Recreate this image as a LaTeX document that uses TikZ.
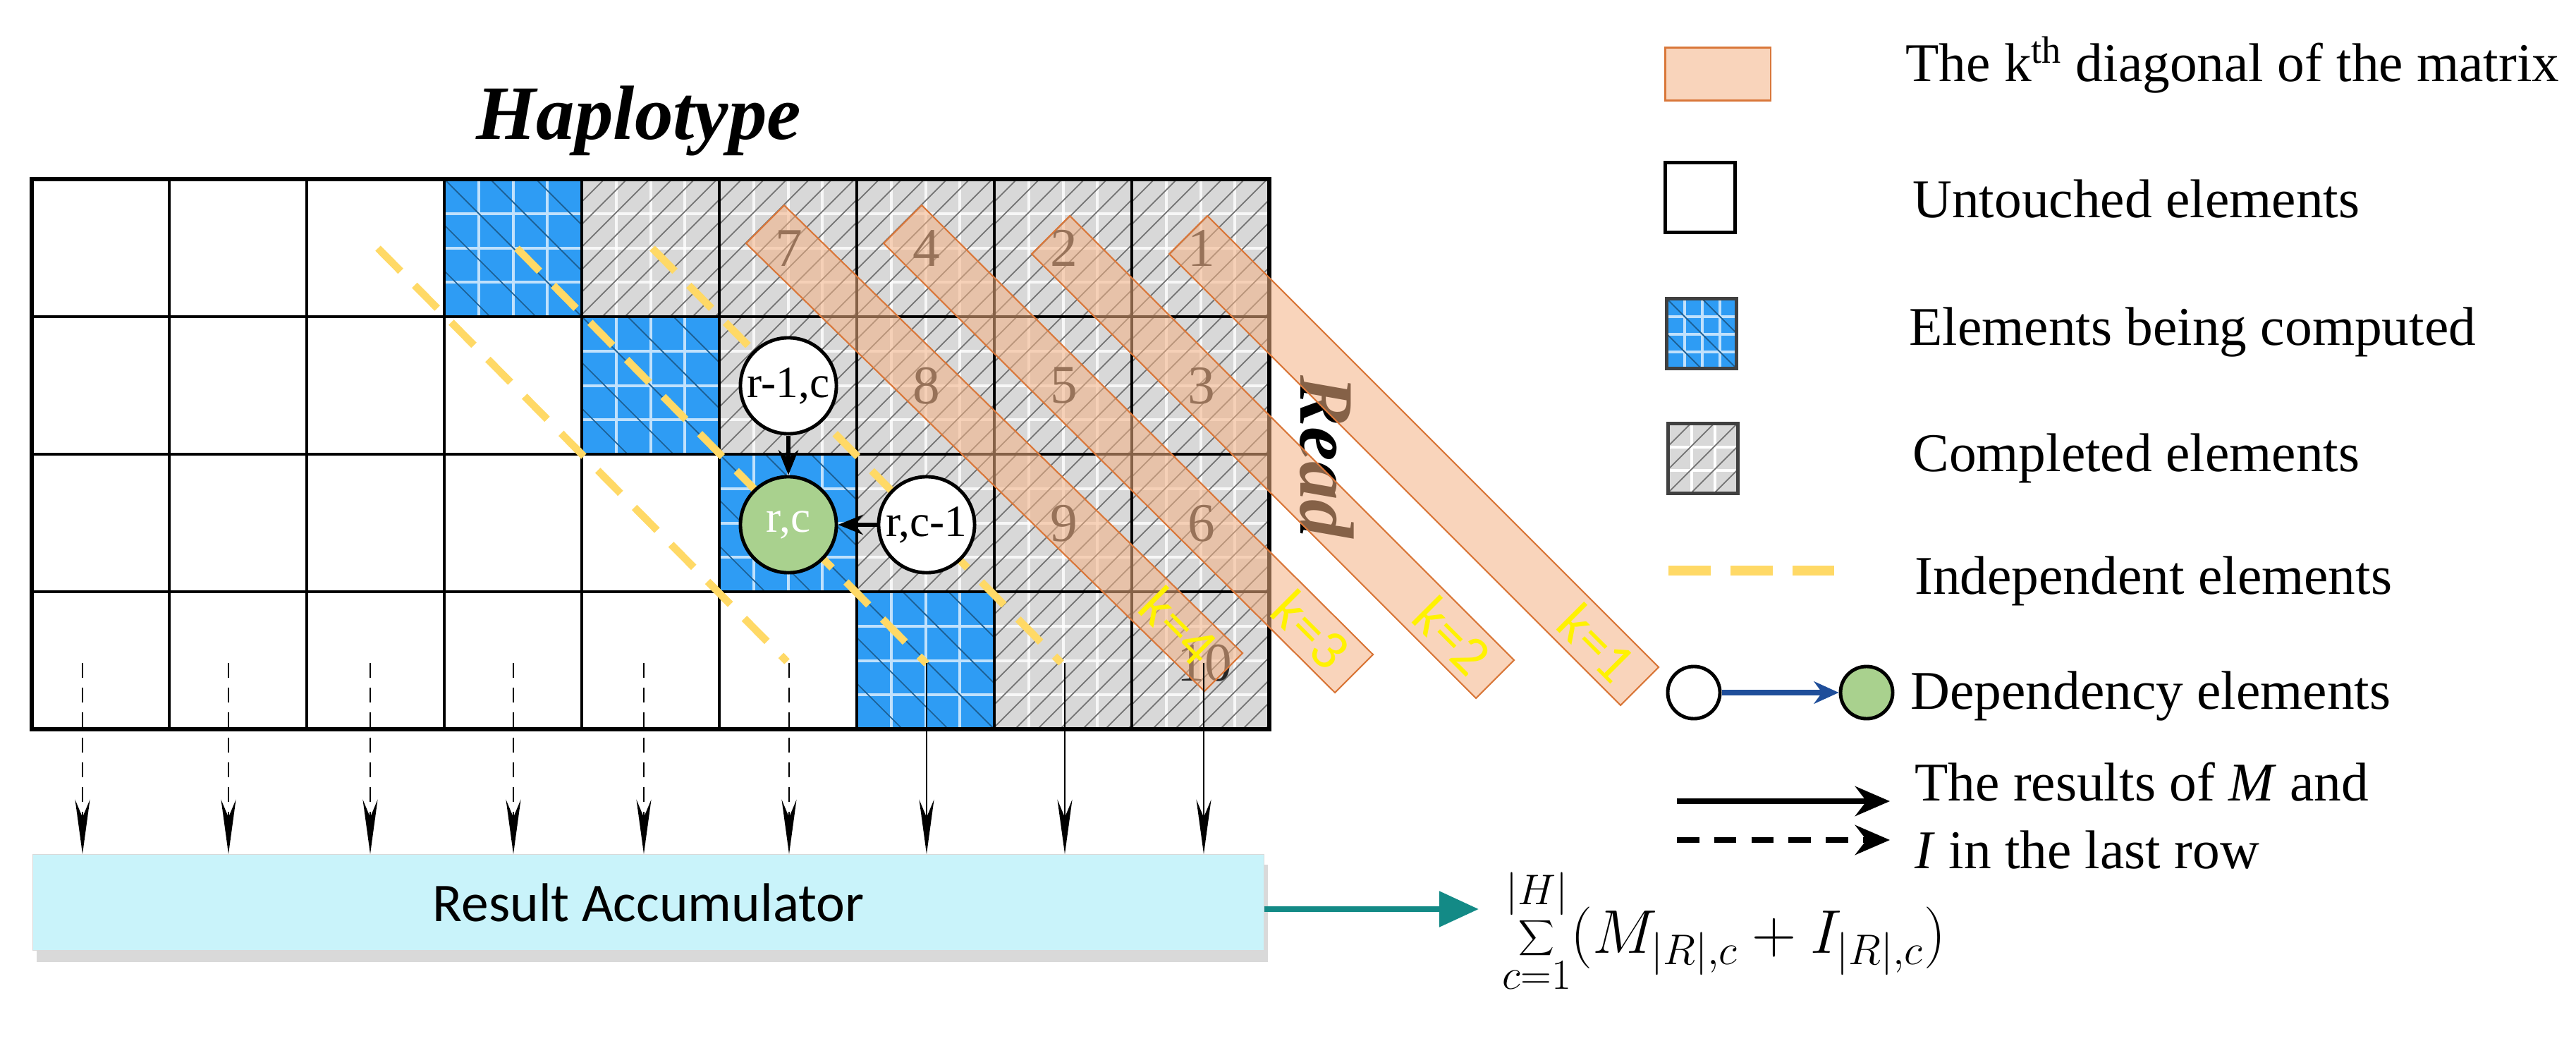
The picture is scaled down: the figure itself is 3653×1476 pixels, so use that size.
\documentclass[tikz,border=0pt]{standalone}
\usepackage{fontspec}
\setmainfont{Liberation Serif}
\newfontfamily\sansf{Carlito}
\usetikzlibrary{arrows.meta}
\definecolor{cblue}{HTML}{2E9CF4}
\definecolor{cgray}{HTML}{D8D8D8}
\definecolor{cgreen}{HTML}{A9D18E}
\definecolor{cyel}{HTML}{FFD966}
\definecolor{corange}{HTML}{F4B183}
\definecolor{cobord}{HTML}{D9773A}
\definecolor{cacc}{HTML}{C9F3FA}
\definecolor{cteal}{HTML}{138A86}
\definecolor{cdep}{HTML}{1F4E9A}
\newcommand\hcGray[2]{\begin{scope}\clip (#1,#2) rectangle ++(195,195);
 \fill[cgray] (#1,#2) rectangle ++(195,195);
 \foreach \q in {49,98,146}{\draw[white,line width=1.2pt,opacity=.8] ({#1+\q},#2) -- ++(0,195); \draw[white,line width=1.2pt,opacity=.8] (#1,{#2+\q}) -- ++(195,0);}
 \foreach \d in {-195,-163,...,200}{\draw[gray!90!black,line width=.5pt] ({#1+\d},{#2+195}) -- ++(195,-195);}
 \end{scope}}
\newcommand\hcBlue[2]{\begin{scope}\clip (#1,#2) rectangle ++(195,195);
 \fill[cblue] (#1,#2) rectangle ++(195,195);
 \foreach \q in {49,98,146}{\draw[white!70!cblue,line width=1pt] ({#1+\q},#2) -- ++(0,195); \draw[white!70!cblue,line width=1pt] (#1,{#2+\q}) -- ++(195,0);}
 \foreach \d in {-195,-130,...,200}{\draw[cblue!60!black,line width=.5pt] ({#1+\d},#2) -- ++(195,195);}
 \end{scope}}
\tikzset{
 band/.style={fill=corange,fill opacity=.55,draw=cobord,draw opacity=1,line width=.6pt},
 klab/.style={font=\sansf\fontsize{23}{23}\selectfont,text=yellow,rotate=-45},
 num/.style={font=\fontsize{22}{22}\selectfont,text=black!85},
 circ/.style={circle,draw=black,line width=1.4pt,minimum size=1.36cm,inner sep=0pt,font=\fontsize{18}{18}\selectfont},
 yd/.style={draw=cyel,line width=3pt,dash pattern=on 13pt off 8pt},
 leg/.style={anchor=west,font=\fontsize{22}{22}\selectfont},
 colarr/.style={-{Stealth[length=22pt,width=6pt]},line width=.6pt},
}
\begin{document}
\begin{tikzpicture}[x=0.01cm,y=-0.01cm]
\useasboundingbox (0,0) rectangle (3653,1476);
% cells
\hcBlue{630}{254}
\foreach \c in {4,...,8}{\hcGray{\c*195+45}{254}}
\hcBlue{825}{449}
\foreach \c in {5,...,8}{\hcGray{\c*195+45}{449}}
\hcBlue{1020}{644}
\foreach \c in {6,...,8}{\hcGray{\c*195+45}{644}}
\hcBlue{1215}{839}
\foreach \c in {7,8}{\hcGray{\c*195+45}{839}}
% grid
\foreach \c in {1,...,8}{\draw[line width=1.2pt] ({45+\c*195},254) -- ({45+\c*195},1034);}
\foreach \r in {1,2,3}{\draw[line width=1.2pt] (45,{254+\r*195}) -- (1800,{254+\r*195});}
\draw[line width=1.8pt] (45,254) rectangle (1800,1034);
% numbers
\node[num] (n1) at (1704,352) {1};
\node[num] (n2) at (1509,352) {2};
\node[num] (n3) at (1704,547) {3};
\node[num] (n4) at (1314,352) {4};
\node[num] (n5) at (1509,547) {5};
\node[num] (n6) at (1704,742) {6};
\node[num] (n7) at (1119,352) {7};
\node[num] (n8) at (1314,547) {8};
\node[num] (n9) at (1509,742) {9};
\node[num] (n10) at (1708,940) {10};
\node[font=\bfseries\itshape\fontsize{31}{31}\selectfont,rotate=-90] (read) at (1882,648) {Read};
\node[font=\bfseries\itshape\fontsize{31}{31}\selectfont] (hap) at (906,171) {Haplotype};
% yellow dashed
\draw[yd] (536,352) -- (1116,938);
\draw[yd] (733,352) -- (1314,941);
\draw[yd] (925,352) -- (1505,940);
% circles
\node[circ,fill=white] (a) at (1118,547) {r-1,c};
\node[circ,fill=cgreen,text=white] (b) at (1118,744) {r,c};
\node[circ,fill=white] (d) at (1314,744) {r,c-1};
\draw[-{Stealth[length=10pt,width=8pt]},line width=1.8pt] (a) -- (b);
\draw[-{Stealth[length=10pt,width=8pt]},line width=1.8pt] (d) -- (b);
% bands
\draw[band] (1685,333) ++(-27,27) -- ++(54,-54) -- ++(640,640) -- ++(-54,54) -- cycle;
\draw[band] (1490,333) ++(-27,27) -- ++(54,-54) -- ++(630,630) -- ++(-54,54) -- cycle;
\draw[band] (1280,318) ++(-27,27) -- ++(54,-54) -- ++(640,637) -- ++(-54,54) -- cycle;
\draw[band] (1085,318) ++(-27,27) -- ++(54,-54) -- ++(650,635) -- ++(-54,54) -- cycle;
\node[klab] (k1) at (2265,911) {k=1};
\node[klab] (k2) at (2060,901) {k=2};
\node[klab] (k3) at (1859,893) {k=3};
\node[klab] (k4) at (1672,887) {k=4};
% accumulator
\fill[black!15] (52,1226) rectangle (1798,1364);
\node[draw=black!15,fill=cacc,minimum width=17.45cm,minimum height=1.36cm,inner sep=0pt,anchor=north west,font=\sansf\fontsize{22}{22}\selectfont] (acc) at (46,1211) {Result Accumulator};
\foreach \x [count=\i] in {117,324,525,728,913,1119}{
 \coordinate (s\i) at (\x,940);
 \draw[colarr,dash pattern=on 6pt off 4pt] (s\i) -- (s\i |- acc.north);}
\foreach \x [count=\i from 7] in {1314,1510,1707}{
 \coordinate (s\i) at (\x,940);
 \draw[colarr] (s\i) -- (s\i |- acc.north);}
\node[anchor=west,font=\fontsize{27}{27}\selectfont,inner sep=0pt] (sum) at (2130,1320) {$\displaystyle\sum_{c=1}^{|H|}(M_{|R|,c}+I_{|R|,c})$};
\draw[-{Triangle[length=16pt,width=14pt]},cteal,line width=2.4pt] (acc.east |- 0,1289) -- (2097,1289) coordinate (tealend);
% legend
\node[band,minimum width=1.49cm,minimum height=0.75cm,inner sep=0pt] (L1) at (2436,105) {};
\node[leg] (T1) at (2690,92) {The k\textsuperscript{th} diagonal of the matrix};
\node[draw=black,line width=1.6pt,minimum size=0.99cm,inner sep=0pt] (L2) at (2411,280) {};
\node[leg] (T2) at (2700,282) {Untouched elements};
\fill[cblue] (2364,424) rectangle (2462,522);
\begin{scope}\clip (2364,424) rectangle (2462,522);
\foreach \q in {25,50,75}{\draw[white!70!cblue,line width=1pt] ({2364+\q},424) -- ++(0,98); \draw[white!70!cblue,line width=1pt] (2364,{424+\q}) -- ++(98,0);}
\foreach \d in {-100,-50,...,100}{\draw[cblue!60!black,line width=.5pt] ({2364+\d},424) -- ++(98,98);}
\end{scope}
\node[draw=black!75,line width=1.6pt,minimum size=0.99cm,inner sep=0pt] (L3) at (2413,473) {};
\node[leg] (T3) at (2695,471) {Elements being computed};
\fill[cgray] (2366,601) rectangle (2464,699);
\begin{scope}\clip (2366,601) rectangle (2464,699);
\foreach \q in {33,66}{\draw[white,line width=1.2pt] ({2366+\q},601) -- ++(0,98); \draw[white,line width=1.2pt] (2366,{601+\q}) -- ++(98,0);}
\foreach \d in {-100,-67,...,100}{\draw[gray!90!black,line width=.5pt] ({2366+\d},699) -- ++(98,-98);}
\end{scope}
\node[draw=black!75,line width=1.6pt,minimum size=0.99cm,inner sep=0pt] (L4) at (2415,650) {};
\node[leg] (T4) at (2700,650) {Completed elements};
\coordinate (y1) at (2366,809); \coordinate (y2) at (2601,809);
\draw[draw=cyel,line width=4pt,dash pattern=on 17pt off 8pt] (y1) -- (y2);
\node[leg] (T5) at (2703,824) {Independent elements};
\node[circle,draw=black,line width=1.4pt,fill=white,minimum size=0.74cm,inner sep=0pt] (w) at (2402,982) {};
\node[circle,draw=black,line width=1.4pt,fill=cgreen,minimum size=0.74cm,inner sep=0pt] (g) at (2647,982) {};
\draw[-{Stealth[length=10pt,width=9pt]},cdep,line width=2pt] (w) -- (g);
\node[leg] (T6) at (2697,987) {Dependency elements};
\coordinate (a1) at (2378,1136); \coordinate (a2) at (2680,1136);
\coordinate (a3) at (2378,1191); \coordinate (a4) at (2680,1191);
\draw[-{Stealth[length=14pt,width=12pt]},line width=2pt] (a1) -- (a2);
\draw[-{Stealth[length=14pt,width=12pt]},line width=2pt,dash pattern=on 9pt off 6pt] (a3) -- (a4);
\node[leg] (T7) at (2703,1109) {The results of \textit{M} and};
\node[leg] (T8) at (2703,1205) {\textit{I} in the last row};
\end{tikzpicture}
\end{document}
